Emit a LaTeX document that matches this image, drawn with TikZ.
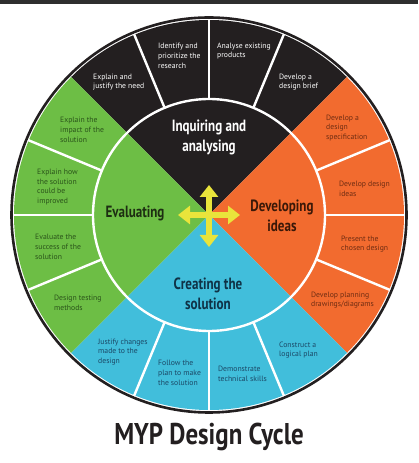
\documentclass[tikz,border=0pt]{standalone}
\usepackage{fontspec}
\setmainfont{PT Sans}
\newfontfamily\condbold[FakeStretch=0.8]{PT Sans}
\newfontfamily\titlefont[FakeStretch=0.83]{PT Sans}
\usetikzlibrary{arrows.meta}
\definecolor{cblack}{HTML}{231F20}
\definecolor{corange}{HTML}{F26B2F}
\definecolor{cgreen}{HTML}{6DBE45}
\definecolor{cblue}{HTML}{41BEDB}
\definecolor{cyellow}{HTML}{E9E43B}
\definecolor{torange}{HTML}{6E2C12}
\definecolor{tgreen}{HTML}{2A531A}
\definecolor{tblue}{HTML}{1B4866}
\definecolor{lorange}{HTML}{3A1808}
\definecolor{lgreen}{HTML}{1D2E12}
\definecolor{lblue}{HTML}{0F3246}
\definecolor{topbar}{HTML}{2E2E2E}
\tikzset{
  divider/.style={white, line width=2.4pt},
  small/.style={anchor=west, align=left, inner sep=0pt, font=\fontsize{7.7}{9.7}\selectfont},
  big/.style={align=center, inner sep=0pt, font=\condbold\bfseries\fontsize{16.3}{20}\selectfont},
  yarrow/.style={cyellow, line width=6pt, {Triangle[width=18pt,length=12pt]}-{Triangle[width=18pt,length=12pt]}}
}
\begin{document}
\begin{tikzpicture}[x=1pt,y=1pt]
\useasboundingbox (0,0) rectangle (418,463);
\fill[white] (0,0) rectangle (418,463);
\fill[topbar] (0,459) rectangle (418,463);
\coordinate (C) at (209,248);
\draw[line width=2.6pt, cblack] (C) circle[radius=197.5];
\fill[cblack] (C) -- ++(45:195) arc[start angle=45,end angle=135,radius=195] -- cycle;
\fill[corange] (C) -- ++(-45:195) arc[start angle=-45,end angle=45,radius=195] -- cycle;
\fill[cblue] (C) -- ++(225:195) arc[start angle=225,end angle=315,radius=195] -- cycle;
\fill[cgreen] (C) -- ++(135:195) arc[start angle=135,end angle=225,radius=195] -- cycle;
\foreach \a in {0,22.5,67.5,90,112.5,157.5,180,202.5,247.5,270,292.5,337.5}
  \draw[divider] (C) ++(\a:116) -- ++(\a:80);
\draw[divider] (C) circle[radius=116];
% black segments
\node[small, white] (b1) at (93,381) {Explain and\\justify the need};
\node[small, white] (b2) at (158,407) {Identify and\\prioritize the\\research};
\node[small, white] (b3) at (217,412) {Analyse existing\\products};
\node[small, white] (b4) at (279,381) {Develop a\\design brief};
% orange segments
\node[small, torange] (o1) at (326,335) {Develop a\\design\\specification};
\node[small, torange] (o2) at (339,274) {Develop design\\ideas};
\node[small, torange] (o3) at (341,219) {Present the\\chosen design};
\node[small, torange] (o4) at (311,163) {Develop planning\\drawings/diagrams};
% blue segments
\node[small, tblue] (u1) at (279,113) {Construct a\\logical plan};
\node[small, tblue] (u2) at (218,89) {Demonstrate\\technical skills};
\node[small, tblue] (u3) at (158,90) {Follow the\\plan to make\\the solution};
\node[small, tblue] (u4) at (98,111) {Justify changes\\made to the\\design};
% green segments
\node[small, tgreen] (g1) at (54,160) {Design testing\\methods};
\node[small, tgreen] (g2) at (35,216) {Evaluate the\\success of the\\solution};
\node[small, tgreen] (g3) at (37,276) {Explain how\\the solution\\could be\\improved};
\node[small, tgreen] (g4) at (60,333) {Explain the\\impact of the\\solution};
% main labels
\node[big, white] (inq) at (209,326) {Inquiring and\\analysing};
\node[big, lorange] (dev) at (282,247) {Developing\\ideas};
\node[big, lgreen] (eva) at (135,250) {Evaluating};
\node[big, lblue] (cre) at (208,169) {Creating the\\solution};
% arrows
\coordinate (aup) at (209,278);
\coordinate (adn) at (209,216);
\coordinate (alf) at (178,248);
\coordinate (art) at (240,248);
\draw[yarrow] (adn) -- (aup);
\draw[yarrow] (alf) -- (art);
% title
\node[inner sep=0pt, cblack, font=\titlefont\bfseries\fontsize{30}{31}\selectfont] (title) at (209,26) {MYP Design Cycle};
\end{tikzpicture}
\end{document}
